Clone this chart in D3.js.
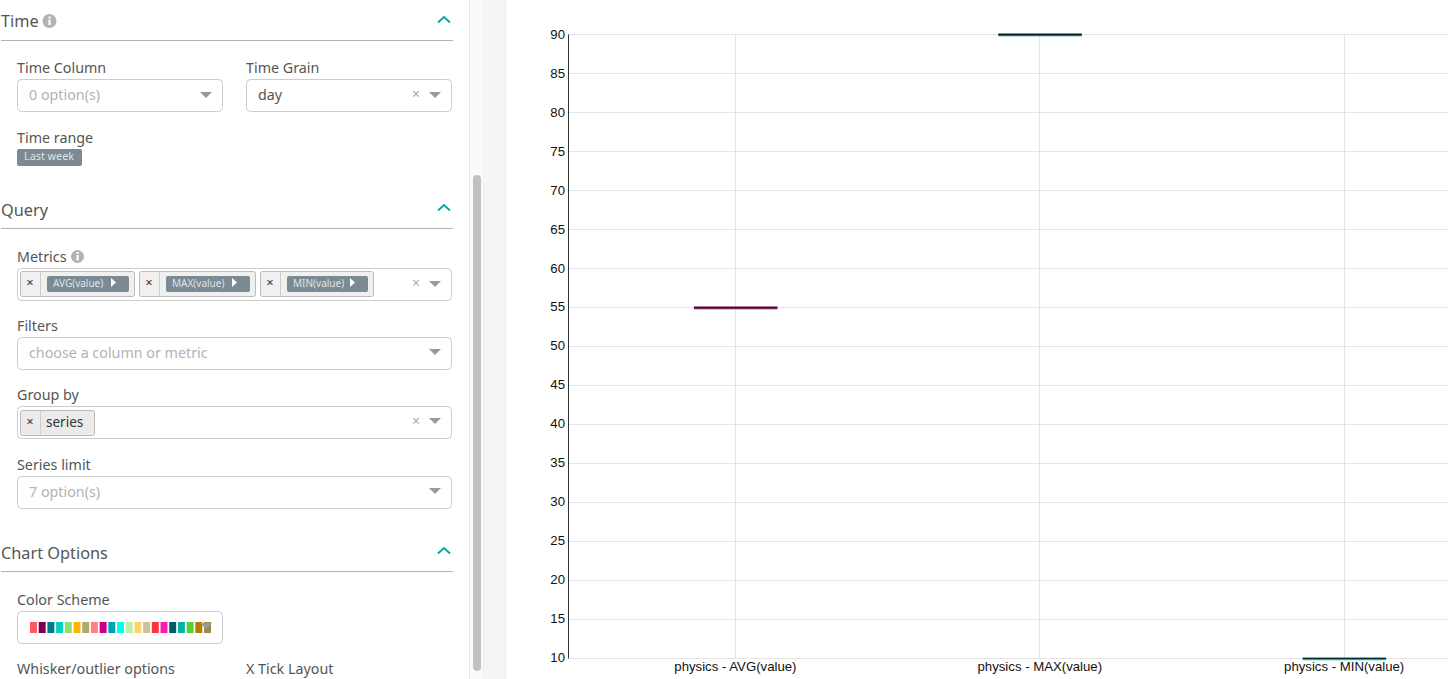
<!DOCTYPE html>
<html>
<head>
<meta charset="utf-8">
<script src="https://cdn.jsdelivr.net/npm/d3@7"></script>
<style>
  html, body { margin: 0; padding: 0; background: #fff; overflow: hidden; }
  svg { display: block; }
  .ui { font-family: "Noto Sans", sans-serif; fill: #484848; }
  .chart text { font-family: "Liberation Sans", Arial, sans-serif; fill: #111; font-size: 13.2px; }
</style>
</head>
<body>
<svg id="page" width="1448" height="679"></svg>
<script>
// box plot values, all boxes are flat (one row per metric)
var categories = ["physics - AVG(value)", "physics - MAX(value)", "physics - MIN(value)"];
var seriesValues = [55, 90, 10];
var boxColors = ["#7b0051", "#007a87", "#00d1c1"];
var yTicks = d3.range(10, 95, 5);
var schemeColors = ["#ff5a5f", "#7b0051", "#007a87", "#00d1c1", "#8ce071", "#ffb400", "#b4a76c",
  "#ff8083", "#cc0086", "#00a1b3", "#00ffeb", "#bbedab", "#ffd266", "#cbc29a",
  "#ff3339", "#ff1ab1", "#005c66", "#00b3a5", "#55d12e", "#b37e00", "#988b4e"];

var svg = d3.select("#page");

// page background
svg.append("rect").attr("x", 483).attr("width", 23).attr("height", 679).attr("fill", "#f5f5f5");
svg.append("rect").attr("x", 470).attr("width", 13).attr("height", 679).attr("fill", "#fafafa");
svg.append("rect").attr("x", 469).attr("width", 1).attr("height", 679).attr("fill", "#e6e6e6");
svg.append("rect").attr("x", 483).attr("width", 1).attr("height", 679).attr("fill", "#eeeeee");
svg.append("rect").attr("x", 505).attr("width", 1).attr("height", 679).attr("fill", "#ececec");
svg.append("rect").attr("x", 473).attr("y", 175).attr("width", 8).attr("height", 496).attr("rx", 4).attr("fill", "#c1c1c1");

// ---------- chart ----------
var chart = svg.append("g").attr("class", "chart");

var y = d3.scaleLinear().domain([10, 90]).range([658, 34.5]);
var x = d3.scaleBand().domain(categories).range([568, 1511.6]).paddingInner(0.7274).paddingOuter(0.4137);

function gridY(d) { return Math.floor(y(d)) + 0.5; }
function centerX(d) { return Math.floor(x(d) + x.bandwidth() / 2) + 0.5; }

chart.append("g").selectAll("line").data(yTicks).join("line")
  .attr("x1", 568).attr("x2", 1448)
  .attr("y1", gridY).attr("y2", gridY)
  .attr("stroke", "#e5e5e5");

chart.append("g").selectAll("line").data(categories).join("line")
  .attr("x1", centerX).attr("x2", centerX)
  .attr("y1", gridY(90)).attr("y2", gridY(10))
  .attr("stroke", "#e5e5e5");

chart.append("line").attr("x1", 568.5).attr("x2", 568.5).attr("y1", gridY(90)).attr("y2", gridY(10))
  .attr("stroke", "#333");

chart.append("g").selectAll("text").data(yTicks).join("text")
  .attr("x", 565).attr("y", function (d) { return y(d) + 4.2; })
  .attr("text-anchor", "end")
  .text(function (d) { return d; });

chart.append("g").selectAll("text").data(categories).join("text")
  .attr("x", function (d) { return x(d) + x.bandwidth() / 2; })
  .attr("y", 671)
  .attr("text-anchor", "middle")
  .text(function (d) { return d; });

// flat boxes: outline in series colour, median line on top
var boxes = chart.append("g").selectAll("g").data(categories).join("g");
boxes.append("rect")
  .attr("x", function (d) { return x(d); })
  .attr("y", function (d, i) { return gridY(seriesValues[i]) - 1; })
  .attr("width", x.bandwidth() + 0.5)
  .attr("height", 2.8)
  .attr("fill", function (d, i) { return boxColors[i]; })
  .attr("opacity", 0.85);
boxes.append("line")
  .attr("x1", function (d) { return x(d); })
  .attr("x2", function (d) { return x(d) + x.bandwidth() + 0.5; })
  .attr("y1", function (d, i) { return gridY(seriesValues[i]); })
  .attr("y2", function (d, i) { return gridY(seriesValues[i]); })
  .attr("stroke", "#000")
  .attr("stroke-opacity", function (d, i) { return i === 0 ? 0.55 : 0.8; })
  .attr("stroke-width", 1.4);

// ---------- control panel ----------
var ui = svg.append("g").attr("class", "ui");

function text(str, px, py, size, color) {
  return ui.append("text").attr("x", px).attr("y", py)
    .attr("font-size", size).attr("fill", color || "#555").text(str);
}

function caret(px, py) {
  ui.append("path").attr("d", d3.line()([[px, py], [px + 12, py], [px + 6, py + 6]])).attr("fill", "#999");
}

function clearX(px, py) {
  text("×", px, py, 14, "#aaa").attr("text-anchor", "middle");
}

function field(px, py, w, h) {
  ui.append("rect").attr("x", px + 0.5).attr("y", py + 0.5).attr("width", w).attr("height", h)
    .attr("rx", 4).attr("fill", "#fff").attr("stroke", "#ccc");
}

function info(px, py, r) {
  ui.append("circle").attr("cx", px).attr("cy", py).attr("r", r).attr("fill", "#b3b3b3");
  ui.append("rect").attr("x", px - 1).attr("y", py - 1.5).attr("width", 2.2).attr("height", 5.5).attr("fill", "#fff");
  ui.append("rect").attr("x", px - 1).attr("y", py - 4.5).attr("width", 2.2).attr("height", 2).attr("fill", "#fff");
}

function section(label, baseY, ruleY) {
  text(label, 1, baseY, 16.3);
  ui.append("rect").attr("x", 1).attr("y", ruleY).attr("width", 452).attr("height", 1).attr("fill", "#b3b3b3");
  ui.append("path").attr("d", d3.line()([[438, ruleY - 17.5], [444, ruleY - 23], [450, ruleY - 17.5]]))
    .attr("fill", "none").attr("stroke", "#00a699").attr("stroke-width", 1.8);
}

function metricChip(label, px, w) {
  var pillW = w - 32;
  ui.append("rect").attr("x", px + 0.5).attr("y", 271.5).attr("width", w).attr("height", 25)
    .attr("rx", 2).attr("fill", "#f0f0f0").attr("stroke", "#bbb");
  ui.append("line").attr("x1", px + 20.5).attr("x2", px + 20.5).attr("y1", 272).attr("y2", 296).attr("stroke", "#ccc");
  text("×", px + 10, 287, 13, "#333").attr("text-anchor", "middle");
  ui.append("rect").attr("x", px + 27).attr("y", 276).attr("width", pillW).attr("height", 16)
    .attr("rx", 2).attr("fill", "#7b8a93");
  text(label, px + 33, 287, 10, "#dfe4e7");
  var tx = px + 27 + pillW - 18;
  ui.append("path").attr("d", d3.line()([[tx, 278], [tx + 5, 282.5], [tx, 287]])).attr("fill", "#fff");
}

section("Time", 27, 40);
info(49.5, 21, 7);
text("Time Column", 17, 73, 14.3);
text("Time Grain", 246, 73, 14.3);
field(17, 79, 205, 32);
text("0 option(s)", 29, 100, 14.3, "#b3b3b3");
caret(200, 92);
field(246, 79, 205, 32);
text("day", 258, 100, 14.3);
clearX(416, 99);
caret(429, 92);
text("Time range", 17, 143, 14.3);
ui.append("rect").attr("x", 17).attr("y", 149).attr("width", 65).attr("height", 17).attr("rx", 2).attr("fill", "#7b8a93");
text("Last week", 24, 160, 10.8, "#dfe4e7");

section("Query", 216, 228);
text("Metrics", 17, 262, 14.3);
info(77.5, 256.5, 6.5);
field(17, 268, 434, 32);
metricChip("AVG(value)", 20, 114);
metricChip("MAX(value)", 139, 116);
metricChip("MIN(value)", 260, 113);
clearX(416, 288);
caret(429, 281);

text("Filters", 17, 331, 14.3);
field(17, 337, 434, 32);
text("choose a column or metric", 29, 358, 14.3, "#b3b3b3");
caret(429, 349);

text("Group by", 17, 400, 14.3);
field(17, 406, 434, 32);
ui.append("rect").attr("x", 20.5).attr("y", 410.5).attr("width", 74).attr("height", 25).attr("rx", 2)
  .attr("fill", "#ebebeb").attr("stroke", "#bbb");
ui.append("line").attr("x1", 40.5).attr("x2", 40.5).attr("y1", 411).attr("y2", 435).attr("stroke", "#ccc");
text("×", 30, 426, 13, "#333").attr("text-anchor", "middle");
text("series", 46, 427, 13.5, "#333");
clearX(416, 426);
caret(429, 418);

text("Series limit", 17, 470, 14.3);
field(17, 476, 434, 32);
text("7 option(s)", 29, 497, 14.3, "#b3b3b3");
caret(429, 488);

section("Chart Options", 559, 571);
text("Color Scheme", 17, 605, 14.3);
field(17, 611, 205, 32);
var swatch = d3.scaleBand().domain(d3.range(schemeColors.length)).range([30, 211]).paddingInner(0.2);
ui.append("g").selectAll("rect").data(schemeColors).join("rect")
  .attr("x", function (d, i) { return swatch(i); })
  .attr("y", 622).attr("height", 11).attr("width", swatch.bandwidth())
  .attr("fill", function (d) { return d; });
caret(200, 623);
text("Whisker/outlier options", 17, 674, 14.3);
text("X Tick Layout", 246, 674, 14.3);
</script>
</body>
</html>
